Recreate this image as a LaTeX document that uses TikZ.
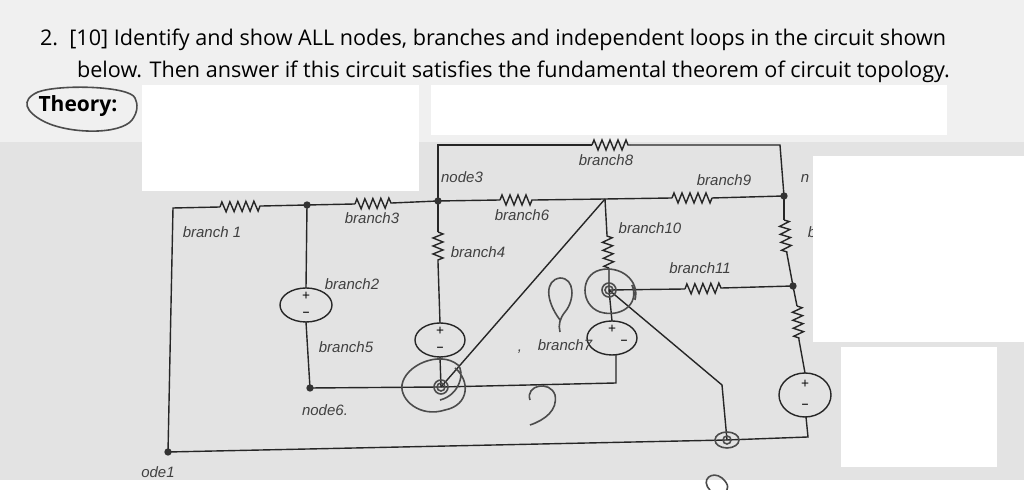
\documentclass[tikz,border=0pt]{standalone}
\usepackage{fontspec}
\setmainfont{Open Sans}
\newfontfamily\hand{Liberation Sans}
\usetikzlibrary{decorations.pathmorphing,shapes.geometric}
\begin{document}
\begin{tikzpicture}[x=0.5pt,y=-0.5pt,
  wire/.style={line width=0.7pt,draw=black!85},
  res/.style={wire,decorate,decoration={zigzag,segment length=4pt,amplitude=2.5pt}},
  lab/.style={font=\hand\fontsize{7.5}{8}\selectfont\itshape,text=black!75},
  pm/.style={font=\scriptsize},
  scrib/.style={line width=0.8pt,draw=black!70},
  dot/.style={circle,fill=black!80,inner sep=1.3pt},
  mask/.style={fill=white,draw=none}]
\useasboundingbox (0,0) rectangle (1024,490);
\fill[black!6] (0,0) rectangle (1024,490);
\fill[black!11] (0,142) rectangle (1024,480);
\fill[white] (0,480) rectangle (1024,490);
% header text
\node[anchor=west,font=\fontsize{10.8}{12}\selectfont] (q1) at (33,40) {2.\ \ [10] Identify and show ALL nodes, branches and independent loops in the circuit shown};
\node[anchor=west,font=\fontsize{10.8}{12}\selectfont] (q2) at (70,72) {below. Then answer if this circuit satisfies the fundamental theorem of circuit topology.};
\node[font=\fontsize{10.5}{12}\selectfont\bfseries] (th) at (78,106) {Theory:};
\draw[scrib] (135,98) .. controls (130,86) and (60,84) .. (38,92) .. controls (20,100) and (25,112) .. (45,122) .. controls (70,134) and (120,135) .. (132,120) .. controls (138,112) and (138,104) .. (135,98);
% coordinates
\coordinate (n1) at (168,452);
\coordinate (tl) at (173,208);
\coordinate (n2) at (307,205);
\coordinate (n6) at (310,388);
\coordinate (n3) at (438,201);
\coordinate (t1) at (438,145);
\coordinate (t2) at (780,145);
\coordinate (n4) at (605,199);
\coordinate (n5) at (784,196);
\coordinate (n7) at (793,286);
\coordinate (c) at (609,290);
\coordinate (g) at (441,387);
\coordinate (k) at (722,385);
\coordinate (b) at (727,440);
\coordinate (br) at (808,437);
\coordinate (s7b) at (616,383);
% sources
\coordinate (s2) at (306,305); \coordinate (s2n) at (306,288); \coordinate (s2s) at (306,322);
\coordinate (s5) at (440,340); \coordinate (s5n) at (440,323); \coordinate (s5s) at (440,357);
\coordinate (s7) at (612,338); \coordinate (s7n) at (612,321); \coordinate (s7s) at (616,355);
\coordinate (s12) at (805,395); \coordinate (s12n) at (805,373); \coordinate (s12s) at (806,417);
\draw[wire] (s2) circle[x radius=26, y radius=17]; \node[pm] at (306,296) {+}; \node[pm] at (306,314) {--};
\draw[wire] (s5) circle[x radius=25, y radius=17]; \node[pm] at (440,331) {+}; \node[pm] at (440,349) {--};
\draw[wire] (s7) circle[x radius=25, y radius=17]; \node[pm] at (612,329) {+}; \node[pm] at (624,342) {--};
\draw[wire] (s12) circle[x radius=26, y radius=22]; \node[pm] at (805,384) {+}; \node[pm] at (805,406) {--};
% wires
\draw[wire] (n1) -- (tl) -- (220,207);
\draw[res] (220,207) -- (262,206);
\draw[wire] (262,206) -- (n2) -- (355,204);
\draw[res] (355,204) -- (392,203);
\draw[wire] (392,203) -- (n3) -- (500,200);
\draw[res] (500,200) -- (535,200);
\draw[wire] (535,200) -- (n4) -- (672,198);
\draw[res] (672,198) -- (712,198);
\draw[wire] (712,198) -- (n5);
\draw[wire] (n3) -- (t1) -- (592,145);
\draw[res] (592,145) -- (630,145);
\draw[wire] (630,145) -- (t2) -- (n5);
\draw[wire] (n2) -- (s2n); \draw[wire] (s2s) -- (n6);
\draw[wire] (n3) -- (438,232); \draw[res] (438,232) -- (438,262); \draw[wire] (438,262) -- (s5n);
\draw[wire] (s5s) -- (g);
\draw[wire] (n6) -- (g) -- (s7b) -- (s7s);
\draw[wire] (s7n) -- (c) -- (609,268); \draw[res] (609,268) -- (607,235); \draw[wire] (607,235) -- (n4);
\draw[wire] (n4) -- (g);
\draw[wire] (c) -- (685,289); \draw[res] (685,289) -- (722,288); \draw[wire] (722,288) -- (n7);
\draw[wire] (c) -- (k) -- (b);
\draw[wire] (n5) -- (784,220); \draw[res] (784,220) -- (787,254); \draw[wire] (787,254) -- (n7) -- (797,306); \draw[res] (797,306) -- (799,340); \draw[wire] (799,340) -- (s12n);
\draw[wire] (s12s) -- (br) -- (b) -- (n1);
% dots
\foreach \p in {n1,n2,n6,n3,n5,n7} \node[dot] at (\p) {};
% scribbles around nodes
\draw[scrib] (g) circle[radius=4] (g) circle[radius=7];
\draw[scrib] (455,368) .. controls (470,380) and (470,405) .. (445,410) .. controls (420,418) and (400,400) .. (402,385) .. controls (405,365) and (440,350) .. (458,365) .. controls (465,372) and (460,395) .. (440,400);
\draw[scrib] (c) circle[radius=4] (c) circle[radius=7];
\draw[scrib] (635,300) .. controls (640,280) and (620,265) .. (600,270) .. controls (580,275) and (580,305) .. (600,312) .. controls (620,318) and (640,305) .. (632,285);
\draw[scrib] (b) circle[x radius=12, y radius=8] (b) circle[radius=4];
\draw[scrib] (560,320) .. controls (545,300) and (545,280) .. (560,278) .. controls (575,278) and (575,300) .. (565,312) .. controls (560,318) and (558,325) .. (560,332);
\draw[scrib] (530,400) .. controls (525,385) and (550,380) .. (555,395) .. controls (558,410) and (545,420) .. (530,425);
\draw[scrib] (710,490) .. controls (700,480) and (712,470) .. (722,478) .. controls (730,485) and (728,490) .. (725,492);
% labels
\node[lab] (l1) at (212,232) {branch 1};
\node[lab] (l3) at (372,218) {branch3};
\node[lab] (ln3) at (462,177) {node3};
\node[lab] (l6) at (522,215) {branch6};
\node[lab] (l4) at (478,252) {branch4};
\node[lab] (l2) at (352,284) {branch2};
\node[lab] (l5) at (346,347) {branch5};
\node[lab] (ln6) at (325,410) {node6.};
\node[lab] (ln1) at (158,472) {ode1};
\node[lab] (l8) at (606,160) {branch8};
\node[lab] (l9) at (724,180) {branch9};
\node[lab] (l10) at (650,228) {branch10};
\node[lab] (l11) at (700,268) {branch11};
\node[lab] (l7) at (565,345) {branch7};
\node[lab] (lc) at (520,352) {,};
\node[lab] (ln) at (805,178) {n};
\node[lab] (lb) at (812,232) {b};
% masks
\fill[mask] (142,85) rectangle (419,191);
\fill[mask] (431,85) rectangle (947,135);
\fill[mask] (813,156) rectangle (1024,342);
\fill[mask] (841,347) rectangle (997,467);
\end{tikzpicture}
\end{document}
